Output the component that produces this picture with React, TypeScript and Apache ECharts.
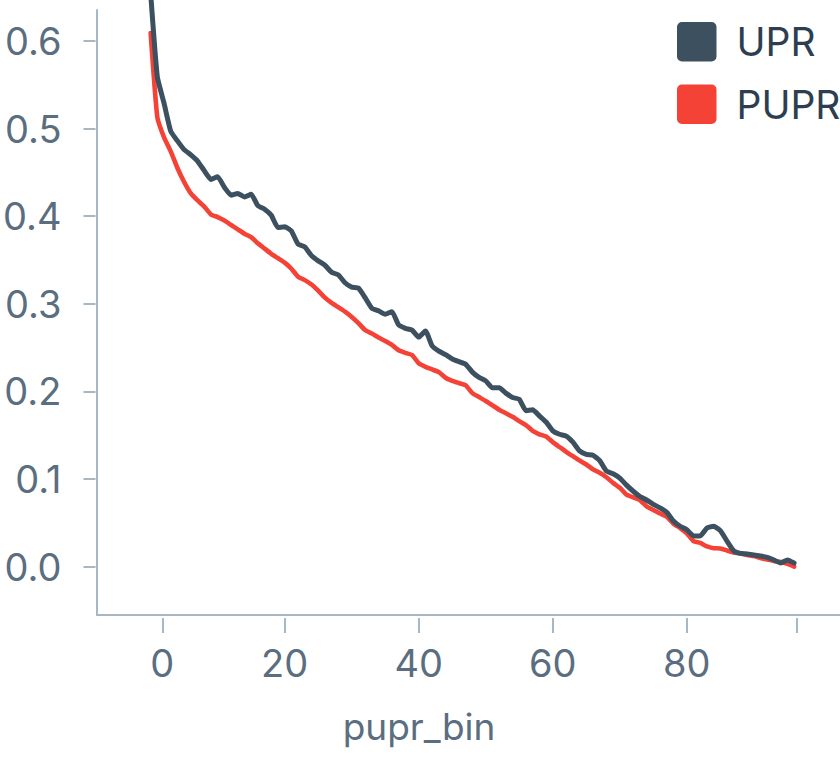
import React, { useEffect, useRef } from "react";
import * as echarts from "echarts";

const pupr_bin = [
  0, 1, 2, 3, 4, 5, 6, 7, 8, 9, 10, 11, 12, 13, 14, 15, 16, 17, 18, 19, 20, 21, 22, 23, 24,
  25, 26, 27, 28, 29, 30, 31, 32, 33, 34, 35, 36, 37, 38, 39, 40, 41, 42, 43, 44, 45, 46, 47,
  48, 49, 50, 51, 52, 53, 54, 55, 56, 57, 58, 59, 60, 61, 62, 63, 64, 65, 66, 67, 68, 69, 70,
  71, 72, 73, 74, 75, 76, 77, 78, 79, 80, 81, 82, 83, 84, 85, 86, 87, 88, 89, 90, 91, 92, 93,
  94, 95, 96,
];

const upr = [
  0.655, 0.559, 0.529, 0.497, 0.486, 0.476, 0.47, 0.463, 0.452, 0.442, 0.445, 0.433, 0.424,
  0.426, 0.422, 0.425, 0.412, 0.408, 0.401, 0.387, 0.388, 0.383, 0.368, 0.365, 0.355, 0.349,
  0.344, 0.336, 0.333, 0.324, 0.319, 0.318, 0.307, 0.295, 0.292, 0.288, 0.291, 0.276, 0.272,
  0.27, 0.262, 0.269, 0.252, 0.246, 0.242, 0.237, 0.234, 0.231, 0.222, 0.216, 0.212, 0.204,
  0.204, 0.198, 0.193, 0.191, 0.178, 0.179, 0.172, 0.165, 0.155, 0.151, 0.149, 0.142, 0.132,
  0.128, 0.127, 0.121, 0.109, 0.106, 0.101, 0.093, 0.086, 0.08, 0.076, 0.071, 0.067, 0.062,
  0.052, 0.046, 0.042, 0.035, 0.035, 0.044, 0.046, 0.041, 0.029, 0.018, 0.015, 0.0144, 0.0132,
  0.012, 0.0104, 0.0075, 0.004, 0.0075, 0.004,
];

const pupr = [
  0.609, 0.513, 0.49, 0.474, 0.455, 0.439, 0.426, 0.418, 0.411, 0.402, 0.399, 0.395, 0.39,
  0.385, 0.38, 0.376, 0.369, 0.363, 0.357, 0.352, 0.347, 0.34, 0.331, 0.327, 0.322, 0.315,
  0.307, 0.301, 0.296, 0.291, 0.285, 0.278, 0.27, 0.266, 0.2615, 0.2575, 0.253, 0.247, 0.244,
  0.2415, 0.232, 0.228, 0.225, 0.222, 0.2155, 0.212, 0.2095, 0.207, 0.198, 0.1935, 0.189,
  0.184, 0.179, 0.175, 0.171, 0.166, 0.1615, 0.155, 0.151, 0.1485, 0.142, 0.1365, 0.131, 0.126,
  0.121, 0.1165, 0.111, 0.107, 0.102, 0.0955, 0.09, 0.082, 0.079, 0.076, 0.0686, 0.0646,
  0.0606, 0.057, 0.049, 0.044, 0.038, 0.029, 0.027, 0.023, 0.021, 0.0207, 0.0184, 0.016,
  0.015, 0.0132, 0.012, 0.0098, 0.008, 0.0064, 0.0052, 0.003, 0.0,
];

const yTickValues = [0, 0.1, 0.2, 0.3, 0.4, 0.5, 0.6];
const xTickPositions = [1.75, 20, 40, 60, 80, 96.4];
const xTickLabels = ["0", "20", "40", "60", "80", ""];
const seriesNames = ["UPR", "PUPR"];
const xAxisName = "pupr_bin";

const AXIS_COLOR = "#a7b7c4";
const LABEL_COLOR = "#5a6e7f";
const FONT = "Inter";
const X_MIN = -8.0;
const X_MAX = 102.85;
const Y_MIN = -0.0553;
const Y_MAX = 0.6354;

const ICON =
  "path://M5,0H35A5,5,0,0,1,40,5V35A5,5,0,0,1,35,40H5A5,5,0,0,1,0,35V5A5,5,0,0,1,5,0Z";

export default function App() {
  const ref = useRef<HTMLDivElement>(null);

  useEffect(() => {
    document.body.style.margin = "0";
    if (!ref.current) return;
    const chart = echarts.init(ref.current, undefined, { renderer: "svg" });

    const xLabelFor = (v: number) => {
      const idx = xTickPositions.findIndex((p) => Math.abs(p - v) < 1e-6);
      return idx >= 0 ? xTickLabels[idx] : "";
    };

    const option: any = {
      animation: false,
      backgroundColor: "#ffffff",
      grid: { left: 94, right: 0, top: 10, bottom: 147, containLabel: false },
      legend: {
        data: seriesNames,
        orient: "vertical",
        left: 677,
        top: 21.7,
        padding: 0,
        itemWidth: 39.5,
        itemHeight: 40,
        itemGap: 22.6,
        icon: ICON,
        selectedMode: false,
        textStyle: {
          fontFamily: FONT,
          fontSize: 39,
          color: "#2c3e50",
          padding: [0, 0, 0, 15],
          lineHeight: 40,
        },
      },
      xAxis: [
        {
          type: "value",
          min: X_MIN,
          max: X_MAX,
          position: "bottom",
          axisLine: { show: true, onZero: false, lineStyle: { color: AXIS_COLOR, width: 2 } },
          axisTick: { show: false },
          axisLabel: { show: false },
          splitLine: { show: false },
        },
        {
          type: "value",
          min: X_MIN,
          max: X_MAX,
          position: "bottom",
          offset: 3,
          axisLine: { show: false, onZero: false },
          axisTick: {
            show: true,
            length: 15,
            customValues: xTickPositions,
            lineStyle: { color: AXIS_COLOR, width: 2 },
          },
          axisLabel: {
            show: true,
            customValues: xTickPositions,
            formatter: (v: number) => xLabelFor(v),
            margin: 26,
            color: LABEL_COLOR,
            fontFamily: FONT,
            fontSize: 38,
          },
          splitLine: { show: false },
          name: xAxisName,
          nameLocation: "middle",
          nameGap: 90,
          nameTextStyle: {
            color: LABEL_COLOR,
            fontFamily: FONT,
            fontSize: 37,
            padding: [0, 99, 0, 0],
          },
        },
      ],
      yAxis: [
        {
          type: "value",
          min: Y_MIN,
          max: Y_MAX,
          position: "left",
          axisLine: { show: true, onZero: false, lineStyle: { color: AXIS_COLOR, width: 2 } },
          axisTick: { show: false },
          axisLabel: { show: false },
          splitLine: { show: false },
        },
        {
          type: "value",
          min: Y_MIN,
          max: Y_MAX,
          position: "left",
          offset: 1.5,
          axisLine: { show: false, onZero: false },
          axisTick: {
            show: true,
            length: 12,
            customValues: yTickValues,
            lineStyle: { color: AXIS_COLOR, width: 2 },
          },
          axisLabel: {
            show: true,
            customValues: yTickValues,
            formatter: (v: number) => v.toFixed(1),
            margin: 34,
            color: LABEL_COLOR,
            fontFamily: FONT,
            fontSize: 38,
          },
          splitLine: { show: false },
        },
      ],
      series: [
        {
          name: seriesNames[0],
          type: "line",
          xAxisIndex: 0,
          yAxisIndex: 0,
          data: pupr_bin.map((b, i) => [b, upr[i]]),
          showSymbol: false,
          symbol: "none",
          clip: false,
          smooth: 0.15,
          z: 3,
          color: "#3d5060",
          lineStyle: { color: "#3d5060", width: 5, cap: "round", join: "round" },
        },
        {
          name: seriesNames[1],
          type: "line",
          xAxisIndex: 0,
          yAxisIndex: 0,
          data: pupr_bin.map((b, i) => [b, pupr[i]]),
          showSymbol: false,
          symbol: "none",
          clip: false,
          smooth: 0.15,
          z: 2,
          color: "#f44336",
          lineStyle: { color: "#f44336", width: 4.6, cap: "round", join: "round" },
        },
      ],
    };

    chart.setOption(option);
    return () => {
      chart.dispose();
    };
  }, []);

  return <div ref={ref} style={{ width: 840, height: 762 }} />;
}
